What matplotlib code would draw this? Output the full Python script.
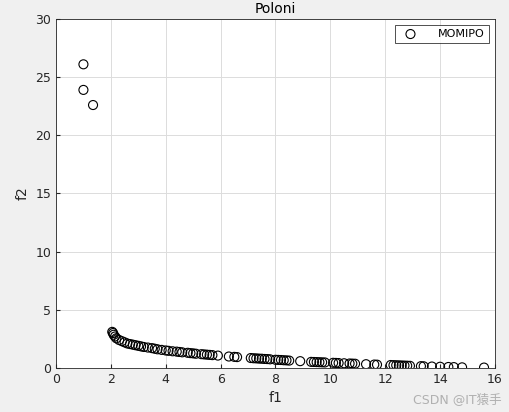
import matplotlib.pyplot as plt

plt.rcParams['font.family'] = ['DejaVu Sans', 'Noto Sans CJK SC']

# outliers at the top left
f1_top = [1.0, 1.0, 1.35]
f2_top = [26.1, 23.9, 22.6]

# main front
f1 = [2.05, 2.08, 2.1, 2.15, 2.2, 2.3, 2.4, 2.5, 2.6, 2.7, 2.8, 2.9, 3.0, 3.1, 3.2,
      3.35, 3.5, 3.6, 3.7, 3.85, 4.0, 4.1, 4.25, 4.4, 4.5, 4.6, 4.8, 4.9, 5.0, 5.1,
      5.3, 5.4, 5.5, 5.6, 5.7, 5.9, 6.3, 6.5, 6.6, 7.1, 7.2, 7.3, 7.4, 7.5, 7.6,
      7.7, 7.8, 8.0, 8.1, 8.2, 8.3, 8.4, 8.5, 8.9, 9.3, 9.4, 9.5, 9.6, 9.7, 9.8,
      10.1, 10.2, 10.3, 10.5, 10.7, 10.8, 10.9, 11.3, 11.6, 11.7, 12.2, 12.3, 12.4,
      12.5, 12.6, 12.7, 12.8, 12.9, 13.3, 13.4, 13.7, 14.0, 14.3, 14.5, 14.8, 15.6]
f2 = [3.1, 3.0, 2.85, 2.7, 2.55, 2.4, 2.3, 2.2, 2.1, 2.05, 2.0, 1.95, 1.9, 1.85, 1.8,
      1.75, 1.7, 1.65, 1.6, 1.55, 1.5, 1.47, 1.43, 1.4, 1.37, 1.34, 1.3, 1.27, 1.25, 1.22,
      1.18, 1.16, 1.14, 1.12, 1.1, 1.06, 0.98, 0.95, 0.93, 0.85, 0.83, 0.82, 0.8, 0.79, 0.77,
      0.76, 0.74, 0.7, 0.69, 0.68, 0.66, 0.65, 0.63, 0.58, 0.52, 0.51, 0.5, 0.49, 0.48, 0.47,
      0.44, 0.43, 0.42, 0.4, 0.38, 0.37, 0.36, 0.32, 0.29, 0.28, 0.25, 0.24, 0.23,
      0.22, 0.21, 0.2, 0.19, 0.18, 0.15, 0.14, 0.12, 0.1, 0.08, 0.07, 0.05, 0.03]

fig = plt.figure(figsize=(5.09, 4.12), dpi=100, facecolor='#f0f0f0')
ax = fig.add_axes([0.110, 0.107, 0.8625, 0.847])
ax.scatter(f1_top + f1, f2_top + f2, s=42, facecolors='none', edgecolors='black',
           linewidths=0.8, label='MOMIPO', zorder=3)
ax.set_xlim(0, 16)
ax.set_ylim(0, 30)
ax.set_xticks(range(0, 17, 2))
ax.set_yticks(range(0, 31, 5))
ax.grid(True, color='#dcdcdc', linewidth=0.7)
ax.tick_params(labelsize=9, direction='in', colors='#262626', length=3)
for s in ax.spines.values():
    s.set_color('#262626')
    s.set_linewidth(0.6)
ax.set_xlabel('f1', fontsize=10, color='#262626')
ax.set_ylabel('f2', fontsize=10, color='#262626')
ax.set_title('Poloni', fontsize=10, color='black', pad=4)
leg = ax.legend(loc='upper right', fontsize=8, fancybox=False, edgecolor='black',
                borderpad=0.4, handletextpad=1.5)
leg.get_frame().set_linewidth(0.6)
fig.text(0.985, 0.015, 'CSDN @IT猿手', ha='right', va='bottom', fontsize=9,
         color='#b0b0b0', family=['DejaVu Sans', 'Noto Sans CJK SC'])
fig.savefig('out.png', dpi=100, facecolor=fig.get_facecolor())
